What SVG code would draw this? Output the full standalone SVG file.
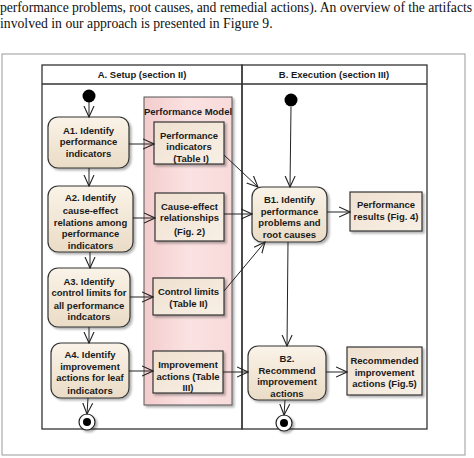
<svg xmlns="http://www.w3.org/2000/svg" width="474" height="458" viewBox="0 0 474 458">
<style>
.cap{font-family:"Liberation Serif","Times New Roman",serif;font-size:13.7px;fill:#111}
.t{font-family:"Liberation Sans",Arial,sans-serif;font-size:9.5px;font-weight:bold;fill:#1a1a1a;text-anchor:middle}
.h{font-family:"Liberation Sans",Arial,sans-serif;font-size:9.5px;font-weight:bold;fill:#1a1a1a;text-anchor:middle}
.act{fill:url(#beige);stroke:#333;stroke-width:1.2;filter:url(#sh)}
.obj{fill:url(#beige2);stroke:#333;stroke-width:1.2;filter:url(#sh)}
.lane{fill:none;stroke:#333;stroke-width:1.3}
.c{fill:none;stroke:#222;stroke-width:1;marker-end:url(#ah)}
</style>
<defs>
<linearGradient id="beige" x1="0" y1="0" x2="0" y2="1">
<stop offset="0" stop-color="#faf3e8"/><stop offset="1" stop-color="#eadcc6"/>
</linearGradient>
<linearGradient id="beige2" x1="0" y1="0" x2="1" y2="1">
<stop offset="0" stop-color="#efe0cf"/><stop offset="1" stop-color="#f8f0e6"/>
</linearGradient>
<linearGradient id="pink" x1="0" y1="0" x2="1" y2="0">
<stop offset="0" stop-color="#f3cccc"/><stop offset="0.5" stop-color="#fbe2e2"/><stop offset="1" stop-color="#f8dada"/>
</linearGradient>
<filter id="sh" x="-20%" y="-20%" width="140%" height="140%">
<feDropShadow dx="2" dy="2" stdDeviation="1.2" flood-color="#000" flood-opacity="0.3"/>
</filter>
<marker id="ah" viewBox="0 0 12 12" refX="11" refY="6" markerWidth="12" markerHeight="12" markerUnits="userSpaceOnUse" orient="auto">
<path d="M0,1 L11,6 L0,11" fill="none" stroke="#222" stroke-width="1.1"/>
</marker>
</defs>
<rect width="474" height="458" fill="#fff"/>
<text class="cap" x="0" y="12" textLength="472" lengthAdjust="spacing">performance problems, root causes, and remedial actions). An overview of the artifacts</text>
<text class="cap" x="0" y="28">involved in our approach is presented in Figure 9.</text>
<rect x="2" y="54" width="463" height="401" fill="#fff" stroke="#999" stroke-width="1"/>
<g id="lanes">
<rect class="lane" x="42" y="65" width="200" height="364"/>
<rect class="lane" x="242" y="65" width="185" height="364"/>
<line class="lane" x1="42" y1="84" x2="427" y2="84"/>
<text class="h" x="142" y="78">A. Setup (section II)</text>
<text class="h" x="334" y="78">B. Execution (section III)</text>
</g>
<g id="perfModel">
<rect x="144" y="97" width="88" height="308" fill="url(#pink)" stroke="#555" stroke-width="1" filter="url(#sh)"/>
<text class="t" x="188" y="115">Performance Model</text>
</g>
<g id="startA"><circle cx="89" cy="96" r="6.5" fill="#000"/></g>
<g id="startB"><circle cx="291" cy="100" r="6.5" fill="#000"/></g>
<g id="A1">
<rect class="act" x="48" y="117" width="81" height="51" rx="10"/>
<text class="t" x="88.5" y="134">A1. Identify</text>
<text class="t" x="88.5" y="145">performance</text>
<text class="t" x="88.5" y="157">indicators</text>
</g>
<g id="A2">
<rect class="act" x="48" y="186" width="85" height="66" rx="10"/>
<text class="t" x="90.5" y="201">A2. Identify</text>
<text class="t" x="90.5" y="214">cause-effect</text>
<text class="t" x="90.5" y="226">relations among</text>
<text class="t" x="90.5" y="237">performance</text>
<text class="t" x="90.5" y="249">indicators</text>
</g>
<g id="A3">
<rect class="act" x="48" y="268" width="82" height="59" rx="10"/>
<text class="t" x="89" y="285">A3. Identify</text>
<text class="t" x="89" y="296">control limits for</text>
<text class="t" x="89" y="309">all performance</text>
<text class="t" x="89" y="320">indcators</text>
</g>
<g id="A4">
<rect class="act" x="51" y="343" width="78" height="55" rx="10"/>
<text class="t" x="90" y="358">A4. Identify</text>
<text class="t" x="90" y="370">improvement</text>
<text class="t" x="90" y="381">actions for leaf</text>
<text class="t" x="90" y="394">indicators</text>
</g>
<g id="PI">
<rect class="obj" x="154" y="122" width="70" height="42"/>
<text class="t" x="189" y="139">Performance</text>
<text class="t" x="189" y="150">indicators</text>
<text class="t" x="191" y="162">(Table I)</text>
</g>
<g id="CE">
<rect class="obj" x="155" y="193" width="69" height="48"/>
<text class="t" x="189.5" y="210">Cause-effect</text>
<text class="t" x="189.5" y="221">relationships</text>
<text class="t" x="189.5" y="235">(Fig. 2)</text>
</g>
<g id="CL">
<rect class="obj" x="153" y="278" width="71" height="37"/>
<text class="t" x="188.5" y="295">Control limits</text>
<text class="t" x="188.5" y="307">(Table II)</text>
</g>
<g id="IA">
<rect class="obj" x="153" y="351" width="70" height="42"/>
<text class="t" x="188" y="368">Improvement</text>
<text class="t" x="188" y="380">actions (Table</text>
<text class="t" x="188" y="391">III)</text>
</g>
<g id="B1">
<rect class="act" x="252" y="187" width="75" height="55" rx="10"/>
<text class="t" x="289.5" y="203">B1. Identify</text>
<text class="t" x="289.5" y="215">performance</text>
<text class="t" x="289.5" y="226">problems and</text>
<text class="t" x="289.5" y="238">root causes</text>
</g>
<g id="B2">
<rect class="act" x="248" y="346" width="78" height="54" rx="10"/>
<text class="t" x="287" y="362">B2.</text>
<text class="t" x="287" y="374">Recommend</text>
<text class="t" x="287" y="385">improvement</text>
<text class="t" x="287" y="397">actions</text>
</g>
<g id="PR">
<rect class="obj" x="350" y="192" width="72" height="39"/>
<text class="t" x="386" y="208">Performance</text>
<text class="t" x="386" y="220">results (Fig. 4)</text>
</g>
<g id="RA">
<rect class="obj" x="347" y="347" width="75" height="48"/>
<text class="t" x="384.5" y="364">Recommended</text>
<text class="t" x="384.5" y="376">improvement</text>
<text class="t" x="384.5" y="387">actions (Fig.5)</text>
</g>
<g id="endA">
<circle cx="87" cy="422" r="8" fill="#fff" stroke="#222" stroke-width="1.2" filter="url(#sh)"/>
<circle cx="87" cy="422" r="4" fill="#000"/>
</g>
<g id="endB">
<circle cx="284" cy="423" r="8" fill="#fff" stroke="#222" stroke-width="1.2" filter="url(#sh)"/>
<circle cx="284" cy="423" r="4" fill="#000"/>
</g>
<g id="connectors">
<line class="c" x1="89" y1="102" x2="89" y2="117"/>
<line class="c" x1="89" y1="168" x2="89" y2="186"/>
<line class="c" x1="90" y1="252" x2="90" y2="268"/>
<line class="c" x1="89" y1="327" x2="89" y2="343"/>
<line class="c" x1="88" y1="398" x2="87" y2="414"/>
<line class="c" x1="129" y1="144" x2="154" y2="144"/>
<line class="c" x1="133" y1="218" x2="155" y2="218"/>
<line class="c" x1="130" y1="297" x2="153" y2="297"/>
<line class="c" x1="129" y1="371" x2="153" y2="371"/>
<line class="c" x1="224" y1="155" x2="258" y2="187"/>
<line class="c" x1="224" y1="214" x2="252" y2="214"/>
<line class="c" x1="224" y1="291" x2="265" y2="242"/>
<line class="c" x1="223" y1="372" x2="248" y2="372"/>
<line class="c" x1="291" y1="107" x2="290" y2="187"/>
<line class="c" x1="288" y1="242" x2="287" y2="346"/>
<line class="c" x1="327" y1="212" x2="350" y2="212"/>
<line class="c" x1="326" y1="372" x2="347" y2="372"/>
<line class="c" x1="285" y1="400" x2="284" y2="415"/>
</g>
</svg>
